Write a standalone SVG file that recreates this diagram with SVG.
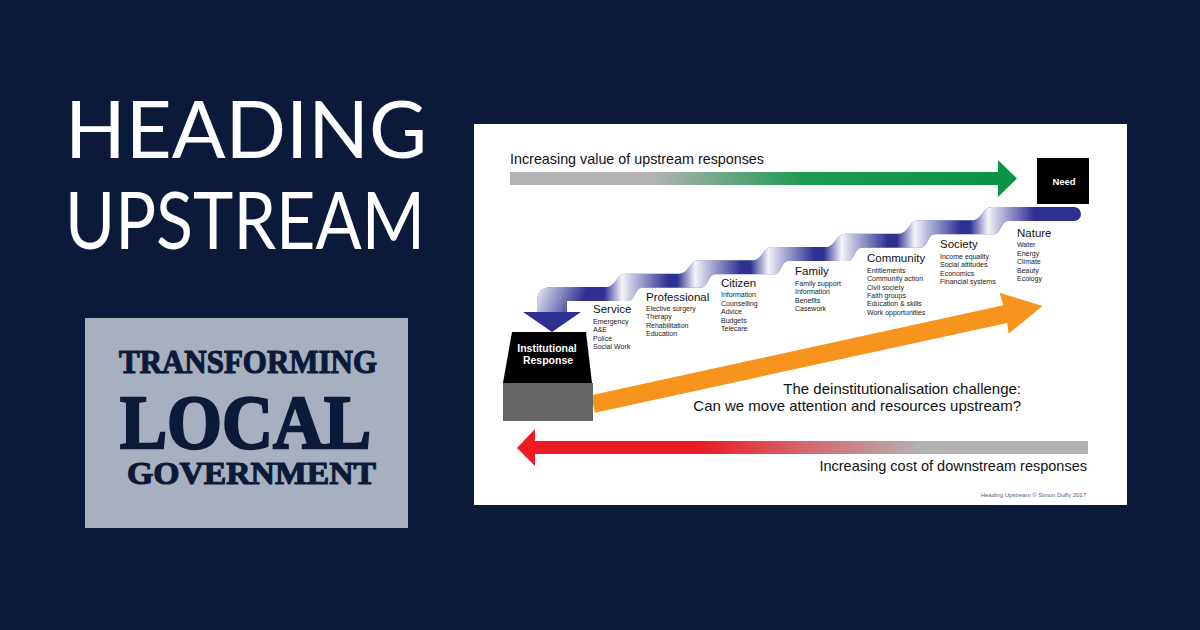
<svg xmlns="http://www.w3.org/2000/svg" width="1200" height="630" viewBox="0 0 1200 630">
<defs>
<style>
.title{font-family:Lato,"Liberation Sans",sans-serif;font-size:80px;fill:#ffffff;}
.tlg{font-family:"Liberation Serif","DejaVu Serif",serif;font-weight:bold;fill:#0c1a3a;stroke:#0c1a3a;}
.lbl{font-family:"Liberation Sans",Arial,sans-serif;fill:#111111;}
.hd{font-size:11.5px;}
.it{font-size:7px;fill:#1a1a1a;}
.big{font-family:"Liberation Sans",Arial,sans-serif;font-size:14.5px;fill:#111111;}
.q{font-family:"Liberation Sans",Arial,sans-serif;font-size:15px;fill:#111111;}
.wb{font-family:"Liberation Sans",Arial,sans-serif;font-weight:bold;fill:#ffffff;}
</style>
<linearGradient id="gGreen" gradientUnits="userSpaceOnUse" x1="510" y1="0" x2="998" y2="0">
<stop offset="0" stop-color="#b3b3b3"/>
<stop offset="0.29" stop-color="#b3b3b3"/>
<stop offset="0.6" stop-color="#1f9a52"/>
<stop offset="1" stop-color="#0b9446"/>
</linearGradient>
<linearGradient id="gRed" gradientUnits="userSpaceOnUse" x1="535" y1="0" x2="1088" y2="0">
<stop offset="0" stop-color="#ed1c24"/>
<stop offset="0.3" stop-color="#ec1c24"/>
<stop offset="0.48" stop-color="#d6636b"/>
<stop offset="0.7" stop-color="#b3b3b3"/>
<stop offset="1" stop-color="#b3b3b3"/>
</linearGradient>
<linearGradient id="gHi" x1="0" y1="0" x2="1" y2="0">
<stop offset="0" stop-color="#ffffff" stop-opacity="0"/>
<stop offset="0.28" stop-color="#ffffff" stop-opacity="0.95"/>
<stop offset="0.45" stop-color="#ffffff" stop-opacity="0.7"/>
<stop offset="1" stop-color="#ffffff" stop-opacity="0"/>
</linearGradient>
<linearGradient id="gCorner" gradientUnits="userSpaceOnUse" x1="537" y1="287" x2="580" y2="306">
<stop offset="0" stop-color="#ffffff" stop-opacity="0.9"/>
<stop offset="1" stop-color="#ffffff" stop-opacity="0"/>
</linearGradient>
<path id="ribbonPath" d="M 537 312 L 537 302 Q 537 287 552 287 L 606 287 C 616 287 616 273.67 626 273.67 L 679.2 273.67 C 689.2 273.67 689.2 260.33 699.2 260.33 L 752.4 260.33 C 762.4 260.33 762.4 247 772.4 247 L 825.6 247 C 835.6 247 835.6 233.67 845.6 233.67 L 898.8 233.67 C 908.8 233.67 908.8 220.33 918.8 220.33 L 972 220.33 C 982 220.33 982 207 992 207 L 1074 207 A 7 7 0 0 1 1074 221 L 1008 221 C 1001 221 1001 234.33 994 234.33 L 934.8 234.33 C 927.8 234.33 927.8 247.67 920.8 247.67 L 861.6 247.67 C 854.6 247.67 854.6 261 847.6 261 L 788.4 261 C 781.4 261 781.4 274.33 774.4 274.33 L 715.2 274.33 C 708.2 274.33 708.2 287.67 701.2 287.67 L 642 287.67 C 635 287.67 635 301 628 301 L 567 301 L 567 312 L 581 312 L 552 332 L 523 312 Z"/>
<clipPath id="ribbonClip"><use href="#ribbonPath"/></clipPath>
</defs>

<rect x="0" y="0" width="1200" height="630" fill="#0b1a3b"/>

<g id="title">
<text class="title" x="65" y="158" textLength="362" lengthAdjust="spacingAndGlyphs">HEADING</text>
<text class="title" x="65" y="249" textLength="360" lengthAdjust="spacingAndGlyphs">UPSTREAM</text>
</g>

<g id="logo">
<rect x="85" y="318" width="323" height="210" fill="#a8b0bf"/>
<text class="tlg" x="119" y="373" font-size="34" stroke-width="1.2" textLength="258" lengthAdjust="spacingAndGlyphs">TRANSFORMING</text>
<text class="tlg" x="120" y="448" font-size="76" stroke-width="2.5" textLength="251" lengthAdjust="spacingAndGlyphs">LOCAL</text>
<text class="tlg" x="127" y="484" font-size="32" stroke-width="1.2" textLength="249" lengthAdjust="spacingAndGlyphs">GOVERNMENT</text>
</g>

<rect id="panel" x="474" y="124" width="653" height="381" fill="#ffffff"/>

<g id="connectors">
<g id="value-arrow">
<rect x="510" y="172" width="489" height="13" fill="url(#gGreen)"/>
<polygon points="998,160 1017,178.5 998,197" fill="#0b9446"/>
</g>
<g id="cost-arrow">
<rect x="534" y="441" width="554" height="13" fill="url(#gRed)"/>
<polygon points="535,429 517,448 535,466" fill="#ed1c24"/>
</g>
<g id="upstream-arrow" transform="translate(593,404) rotate(-12.3)">
<polygon points="0,-9 422,-9 421,-22 460,0 421,20 422,9 0,9" fill="#f7941d"/>
</g>
<g id="staircase">
<use href="#ribbonPath" fill="#2e3192"/>
<g clip-path="url(#ribbonClip)">
<rect x="530" y="284" width="75" height="28" fill="url(#gCorner)"/>
<rect x="604" y="272" width="64" height="31" fill="url(#gHi)"/>
<rect x="677.2" y="258.5" width="64" height="31" fill="url(#gHi)"/>
<rect x="750.4" y="245.5" width="64" height="31" fill="url(#gHi)"/>
<rect x="823.6" y="232" width="64" height="31" fill="url(#gHi)"/>
<rect x="896.8" y="218.5" width="64" height="31" fill="url(#gHi)"/>
<rect x="970" y="205.5" width="64" height="31" fill="url(#gHi)"/>
</g>
</g>
</g>

<g id="need">
<rect x="1037" y="158" width="52" height="46" fill="#000000"/>
<text class="wb" x="1064" y="185" font-size="9.5" text-anchor="middle">Need</text>
</g>

<g id="institutional">
<polygon points="512,332 586,332 592,383 503,383" fill="#000000"/>
<rect x="503" y="383" width="90" height="38" fill="#666666"/>
<text class="wb" x="547" y="352" font-size="10.5" text-anchor="middle">Institutional</text>
<text class="wb" x="548" y="364" font-size="10.5" text-anchor="middle">Response</text>
</g>

<g id="service" class="lbl">
<text class="hd" x="593" y="313">Service</text>
<text class="it" x="593" y="324">Emergency<tspan x="593" dy="8.4">A&amp;E</tspan><tspan x="593" dy="8.4">Police</tspan><tspan x="593" dy="8.4">Social Work</tspan></text>
</g>
<g id="professional" class="lbl">
<text class="hd" x="646" y="301">Professional</text>
<text class="it" x="646" y="311">Elective surgery<tspan x="646" dy="8.4">Therapy</tspan><tspan x="646" dy="8.4">Rehabilitation</tspan><tspan x="646" dy="8.4">Education</tspan></text>
</g>
<g id="citizen" class="lbl">
<text class="hd" x="721" y="287">Citizen</text>
<text class="it" x="721" y="297">Information<tspan x="721" dy="8.5">Counselling</tspan><tspan x="721" dy="8.5">Advice</tspan><tspan x="721" dy="8.5">Budgets</tspan><tspan x="721" dy="8.5">Telecare</tspan></text>
</g>
<g id="family" class="lbl">
<text class="hd" x="795" y="275">Family</text>
<text class="it" x="795" y="286">Family support<tspan x="795" dy="8.4">Information</tspan><tspan x="795" dy="8.4">Benefits</tspan><tspan x="795" dy="8.4">Casework</tspan></text>
</g>
<g id="community" class="lbl">
<text class="hd" x="867" y="262">Community</text>
<text class="it" x="867" y="273">Entitlements<tspan x="867" dy="8.3">Community action</tspan><tspan x="867" dy="8.3">Civil society</tspan><tspan x="867" dy="8.3">Faith groups</tspan><tspan x="867" dy="8.3">Education &amp; skills</tspan><tspan x="867" dy="8.3">Work opportunities</tspan></text>
</g>
<g id="society" class="lbl">
<text class="hd" x="940" y="248">Society</text>
<text class="it" x="940" y="259">Income equality<tspan x="940" dy="8.4">Social attitudes</tspan><tspan x="940" dy="8.4">Economics</tspan><tspan x="940" dy="8.4">Financial systems</tspan></text>
</g>
<g id="nature" class="lbl">
<text class="hd" x="1017" y="237">Nature</text>
<text class="it" x="1017" y="247">Water<tspan x="1017" dy="8.5">Energy</tspan><tspan x="1017" dy="8.5">Climate</tspan><tspan x="1017" dy="8.5">Beauty</tspan><tspan x="1017" dy="8.5">Ecology</tspan></text>
</g>

<g id="captions">
<text class="big" x="510" y="164" textLength="254" lengthAdjust="spacingAndGlyphs">Increasing value of upstream responses</text>
<text class="q" x="1021" y="394" text-anchor="end">The deinstitutionalisation challenge:</text>
<text class="q" x="1021" y="411" text-anchor="end">Can we move attention and resources upstream?</text>
<text class="big" x="1087" y="471" text-anchor="end">Increasing cost of downstream responses</text>
<text x="1086" y="497" text-anchor="end" font-family="Liberation Sans, Arial, sans-serif" font-size="6" fill="#55627f">Heading Upstream © Simon Duffy 2017</text>
</g>
</svg>
